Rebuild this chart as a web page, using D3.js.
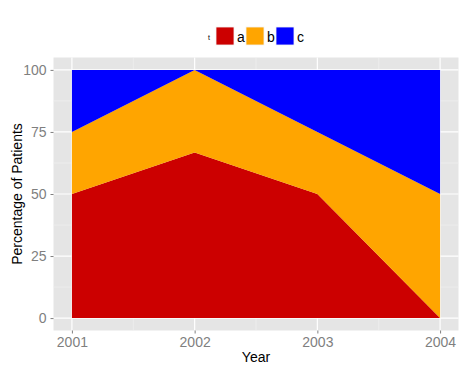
<!DOCTYPE html>
<html>
<head>
<meta charset="utf-8">
<script src="https://cdn.jsdelivr.net/npm/d3@7"></script>
<style>
  body { margin: 0; background: #fff; }
  svg { font-family: "Liberation Sans", Arial, sans-serif; }
</style>
</head>
<body>
<div id="chart"></div>
<script>

// data (percent of patients, stacked)
var years = [2001, 2002, 2003, 2004];
var series_a = [50, 66.7, 50, 0];
var series_b = [25, 33.3, 25, 50];
var series_c = [25, 0, 25, 50];
var keys = ['a', 'b', 'c'];
var colors = ['#cc0000', '#ffa500', '#0000ff'];
var y_ticks = [0, 25, 50, 75, 100];

var width = 474, height = 373;
var panel = {left: 53.5, right: 458.5, top: 57.5, bottom: 330.5};

var svg = d3.select('#chart').append('svg')
  .attr('width', width)
  .attr('height', height);

// scales with ggplot-like 5% expansion
var x = d3.scaleLinear()
  .domain([2001 - 0.15, 2004 + 0.15])
  .range([panel.left, panel.right]);
var y = d3.scaleLinear()
  .domain([-5, 105])
  .range([panel.bottom, panel.top]);

// panel background
svg.append('rect')
  .attr('x', panel.left).attr('y', panel.top)
  .attr('width', panel.right - panel.left)
  .attr('height', panel.bottom - panel.top)
  .attr('fill', '#e5e5e5');

// minor grid
var x_minor = [2001.5, 2002.5, 2003.5];
var y_minor = [12.5, 37.5, 62.5, 87.5];
svg.selectAll('.xminor').data(x_minor).enter().append('line')
  .attr('x1', function(d){ return x(d); }).attr('x2', function(d){ return x(d); })
  .attr('y1', panel.top).attr('y2', panel.bottom)
  .attr('stroke', '#f2f2f2').attr('stroke-width', 0.6);
svg.selectAll('.yminor').data(y_minor).enter().append('line')
  .attr('y1', function(d){ return y(d); }).attr('y2', function(d){ return y(d); })
  .attr('x1', panel.left).attr('x2', panel.right)
  .attr('stroke', '#f2f2f2').attr('stroke-width', 0.6);

// major grid
svg.selectAll('.xmajor').data(years).enter().append('line')
  .attr('x1', function(d){ return x(d); }).attr('x2', function(d){ return x(d); })
  .attr('y1', panel.top).attr('y2', panel.bottom)
  .attr('stroke', '#ffffff').attr('stroke-width', 1.2);
svg.selectAll('.ymajor').data(y_ticks).enter().append('line')
  .attr('y1', function(d){ return y(d); }).attr('y2', function(d){ return y(d); })
  .attr('x1', panel.left).attr('x2', panel.right)
  .attr('stroke', '#ffffff').attr('stroke-width', 1.2);

// build the table and stack it
var table = years.map(function(yr, i){
  return {year: yr, a: series_a[i], b: series_b[i], c: series_c[i]};
});
var stacked = d3.stack().keys(keys)(table);

var area = d3.area()
  .x(function(d){ return x(d.data.year); })
  .y0(function(d){ return y(d[0]); })
  .y1(function(d){ return y(d[1]); });

svg.selectAll('.layer').data(stacked).enter().append('path')
  .attr('class', 'layer')
  .attr('d', area)
  .attr('fill', function(d, i){ return colors[i]; });

// axes
var x_axis = svg.append('g')
  .attr('transform', 'translate(0,' + panel.bottom + ')')
  .call(d3.axisBottom(x).tickValues(years).tickFormat(d3.format('d'))
    .tickSize(3).tickPadding(4));
var y_axis = svg.append('g')
  .attr('transform', 'translate(' + panel.left + ',0)')
  .call(d3.axisLeft(y).tickValues(y_ticks).tickSize(3).tickPadding(4));

[x_axis, y_axis].forEach(function(ax){
  ax.select('.domain').remove();
  ax.selectAll('line').attr('stroke', '#7f7f7f');
  ax.selectAll('text').attr('fill', '#7f7f7f').style('font-size', '14px');
});

// axis titles
svg.append('text')
  .attr('x', (panel.left + panel.right) / 2)
  .attr('y', 362)
  .attr('text-anchor', 'middle')
  .style('font-size', '14px')
  .text('Year');
svg.append('text')
  .attr('transform', 'translate(22,' + (panel.top + panel.bottom) / 2 + ') rotate(-90)')
  .attr('text-anchor', 'middle')
  .style('font-size', '14px')
  .text('Percentage of Patients');

// legend on top
var legend = svg.append('g');
legend.append('text')
  .attr('x', 208).attr('y', 40)
  .style('font-size', '7px')
  .text('t');
var key_x = [216, 246, 276];
keys.forEach(function(k, i){
  legend.append('rect')
    .attr('x', key_x[i]).attr('y', 27)
    .attr('width', 18).attr('height', 18)
    .attr('fill', colors[i])
    .attr('stroke', '#f2f2f2').attr('stroke-width', 0.8);
  legend.append('text')
    .attr('x', key_x[i] + 21).attr('y', 42)
    .style('font-size', '14px')
    .text(k);
});

</script>
</body>
</html>
